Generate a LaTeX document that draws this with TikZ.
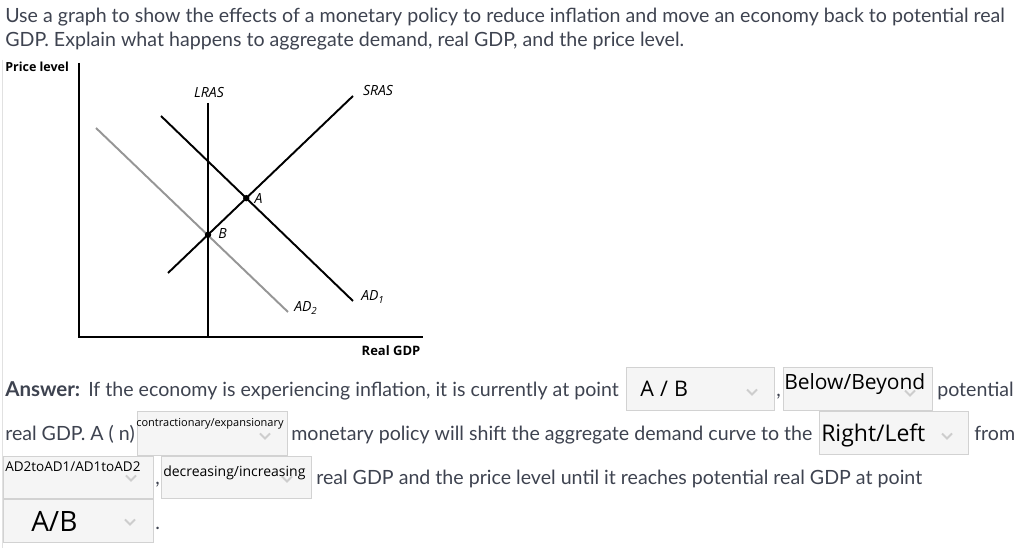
\documentclass[tikz,border=0pt]{standalone}
\usepackage{fontspec}
\usetikzlibrary{calc}
\setmainfont{Lato}
\newfontfamily\uifont{Open Sans}
\definecolor{txt}{RGB}{62,67,80}
\definecolor{boxfill}{RGB}{245,245,245}
\definecolor{boxline}{RGB}{210,210,210}
\definecolor{chev}{RGB}{205,205,205}
\definecolor{adtwo}{RGB}{150,150,150}
\definecolor{edge}{RGB}{225,225,225}
\newcommand{\pxf}[1]{\fontsize{\fpeval{0.75*#1}pt}{\fpeval{0.9*#1}pt}\selectfont}
\begin{document}
\begin{tikzpicture}[x=0.75pt,y=-0.75pt,
  body/.style={anchor=base west,inner sep=0,text=txt,font=\pxf{19.6}},
  ddtext/.style={anchor=base west,inner sep=0,text=black},
  ddbox/.style={draw=boxline,fill=boxfill,line width=0.75pt},
  curve/.style={line width=1.45pt,line cap=butt},
  axis/.style={line width=0.95pt},
  glabel/.style={inner sep=0,font=\uifont\itshape\pxf{14}},
  chevron/.pic={\draw[chev,line width=1.5pt] (-5,-2.5) -- (0,2.5) -- (5,-2.5);}]
\useasboundingbox (0,0) rectangle (1033,548);
\fill[white] (0,0) rectangle (1033,548);
\draw[edge,line width=0.75pt] (2,60) -- (2,548);

% question
\node[body] (q1) at (5,23) {Use a graph to show the effects of a monetary policy to reduce inflation and move an economy back to potential real};
\node[body] (q2) at (5,47) {GDP. Explain what happens to aggregate demand, real GDP, and the price level.};

% graph
\coordinate (O) at (79,337);
\coordinate (ytop) at (79,63);
\coordinate (xend) at (423,337);
\draw[axis] (ytop) -- (O) -- (xend);
\node[anchor=base west,inner sep=0,font=\uifont\bfseries\pxf{12.5}] (plabel) at (5,72) {Price level};
\node[anchor=base,inner sep=0,font=\uifont\bfseries\pxf{13}] (rlabel) at (391,356) {Real GDP};

\coordinate (lr1) at (208,103);
\coordinate (lr2) at (208,337);
\coordinate (s1) at (168,273);
\coordinate (s2) at (353,96);
\coordinate (d1a) at (161,116);
\coordinate (d1b) at (353,301);
\coordinate (d2a) at (96,128);
\coordinate (d2b) at (288,312);
\draw[curve,adtwo] (d2a) -- (d2b);
\draw[curve] (lr1) -- (lr2);
\draw[curve] (s1) -- (s2);
\draw[curve] (d1a) -- (d1b);
\coordinate (A) at (intersection of s1--s2 and d1a--d1b);
\coordinate (B) at (intersection of s1--s2 and lr1--lr2);
\fill (A) circle[radius=3.2];
\fill (B) circle[radius=3.2];
\node[glabel,anchor=west] (lA) at ($(A)+(8,0)$) {A};
\node[glabel,anchor=west] (lB) at ($(B)+(10,-1)$) {B};
\node[glabel] (lLRAS) at (209,93) {LRAS};
\node[glabel] (lSRAS) at (378,91) {SRAS};
\node[glabel,anchor=west] (lAD1) at (361,297) {AD\textsubscript{1}};
\node[glabel,anchor=west] (lAD2) at (294,308) {AD\textsubscript{2}};

% answer line 1
\node[body,font=\bfseries\pxf{20.5}] (ans) at (5,397) {Answer:};
\node[body] (a1) at (88,397) {If the economy is experiencing inflation, it is currently at point};
\draw[ddbox] (626,368) rectangle (774,411);
\pic at (752,392) {chevron};
\node[ddtext,font=\uifont\pxf{21.5}] (dd1) at (640,397) {A\hspace{4.6pt}/\hspace{4.6pt}B};
\node[body] (c1) at (776,397) {,};
\draw[ddbox] (783,368) rectangle (932,411);
\pic at (910,393) {chevron};
\node[ddtext,font=\uifont\pxf{21}] (dd2) at (784,390) {Below/Beyond};
\node[body] (a2) at (937,397) {potential};

% answer line 2
\node[body] (b1) at (5,441) {real GDP. A ( n)};
\draw[ddbox] (137,412) rectangle (287,456);
\pic at (265,436) {chevron};
\node[anchor=base,inner sep=0,text=black,font=\uifont\pxf{11}] (dd3) at (210,427) {contractionary/expansionary};
\node[body] (b2) at (291,441) {monetary policy will shift the aggregate demand curve to the};
\draw[ddbox] (819,412) rectangle (968,455);
\pic at (947,436) {chevron};
\node[ddtext,font=\uifont\pxf{23}] (dd4) at (821,442) {Right/Left};
\node[body] (b3) at (974,441) {from};

% answer line 3
\draw[ddbox] (3,457) rectangle (153,499);
\pic at (131,478) {chevron};
\node[ddtext,font=\uifont\pxf{13.5}] (dd5) at (5,472) {AD2toAD1/AD1toAD2};
\node[body] (c2) at (155,485) {,};
\draw[ddbox] (161,457) rectangle (311,499);
\pic at (287,479) {chevron};
\node[ddtext,font=\uifont\pxf{14}] (dd6) at (163,477) {decreasing/increasing};
\node[body] (c3) at (316,485) {real GDP and the price level until it reaches potential real GDP at point};

% answer line 4
\draw[ddbox] (3,500) rectangle (153,543);
\pic at (130,522) {chevron};
\node[ddtext,font=\uifont\pxf{28}] (dd7) at (31,532) {A/B};
\node[body] (c4) at (155,530) {.};
\end{tikzpicture}
\end{document}
